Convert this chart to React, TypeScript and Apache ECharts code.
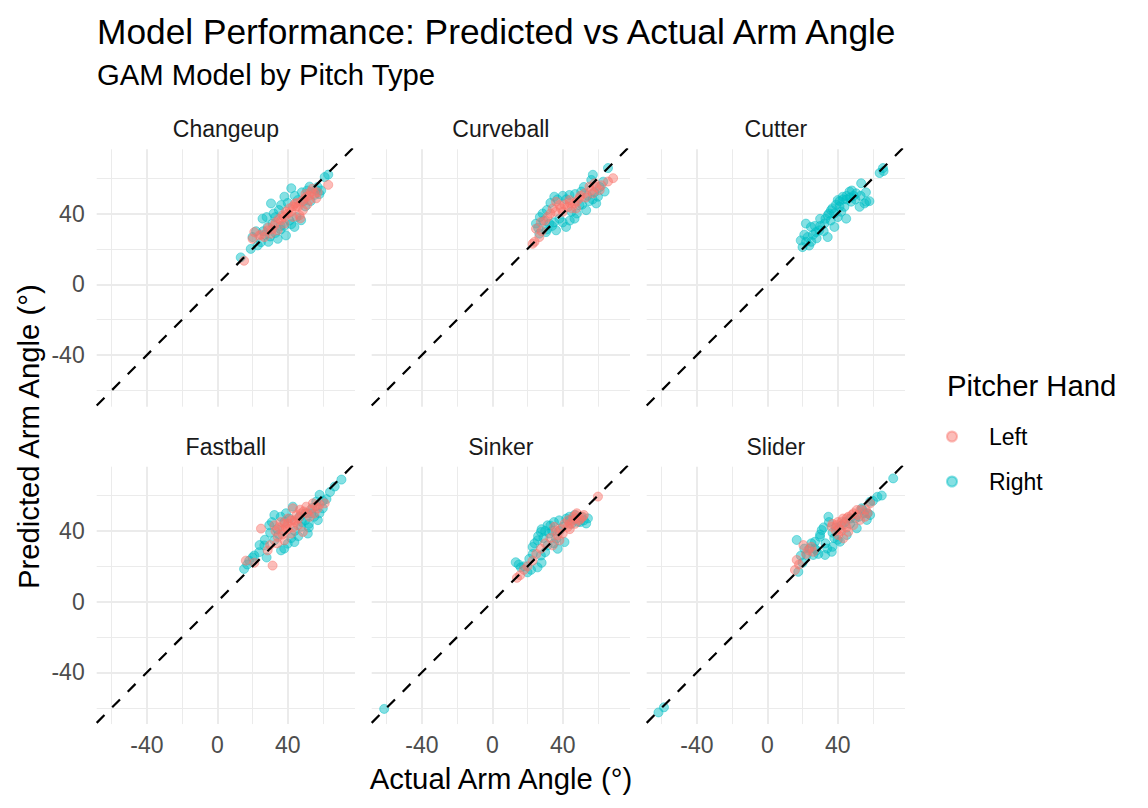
import React, { useEffect, useRef } from "react";
import * as echarts from "echarts";

type Pt = [number, number];

// Facets, legend groups and scale breaks
const PITCH_TYPES = ["Changeup", "Curveball", "Cutter", "Fastball", "Sinker", "Slider"];
const HANDS = ["Left", "Right"];
const HAND_RGB = ["248,118,109", "0,191,196"];
const MAJOR_BREAKS = [-40, 0, 40];
const MINOR_BREAKS = [-60, -20, 20, 60];
const X_RANGE = [-68.5, 78.2];
const Y_RANGE = [-69.2, 76.3];

// [actual arm angle, predicted arm angle]
const changeupLeft: Pt[] = [
  [63, 56.2], [15.2, 13.3], [20, 25.7], [23.8, 27.6], [28.6, 30.5], [32.4, 33.3], [36.2, 36.2],
  [40, 40], [41, 42.9], [44.8, 43.8], [47.6, 46.7], [50.5, 49.5], [53.3, 52.4], [55.2, 51.4],
  [46.7, 39], [42.9, 38.1], [34.3, 30.5], [26.7, 26.7], [30.5, 28.6], [38.1, 34.3], [48.6, 41.9],
  [52.4, 47.6], [56.2, 48.6], [21, 29.5], [47.2, 37.3], [44, 45.5], [38, 38], [51, 45],
  [35, 37], [37, 39], [39, 41], [42, 41], [45, 46], [49, 48], [52, 50], [54, 54], [57, 52],
  [31, 31], [29, 32], [25, 28], [33, 35], [43, 44], [46, 44], [50, 51],
];
const changeupRight: Pt[] = [
  [63, 62], [61, 60.6], [42, 54.3], [30.5, 45.7], [36.2, 44.8], [52.4, 55.2], [13.3, 15.2],
  [19, 20], [24.8, 23.8], [28.6, 32.4], [34.3, 25.7], [39, 27.6], [25.7, 37.1], [38.1, 49.5],
  [45.7, 47.6], [55.2, 50.5], [20, 26.7], [31.4, 34.3], [43.8, 32.4], [47.6, 36.2], [56.2, 53.3],
  [22, 30], [27, 28], [33, 38], [41, 36], [50, 44], [53, 47], [58, 51], [36, 31], [29, 24],
  [32, 40], [28, 38], [35, 42], [40, 46], [44, 50], [48, 52], [51, 53], [57, 55], [59, 53],
  [23, 22], [26, 30], [30, 27], [38, 33], [45, 38], [42, 34], [36, 33], [33, 29], [49, 47],
];
const curveballLeft: Pt[] = [
  [68.6, 60], [65.7, 58.1], [22.9, 22.9], [24.8, 31.4], [27.6, 35.2], [31.4, 38.1], [36.2, 46.7],
  [40, 41], [42.9, 43.8], [46.7, 45.7], [49.5, 48.6], [52.4, 51.4], [55.2, 55.2], [58.1, 57.1],
  [61, 53.3], [57.1, 51.4], [43.8, 47.6], [47.6, 42.9], [34.3, 42.9], [38.1, 44.8], [26.7, 26.7],
  [24, 24], [30, 36], [33, 40], [36, 41], [39, 43], [41, 45], [44, 46], [48, 47], [50, 50],
  [53, 49], [56, 53], [59, 55], [62, 56], [45, 43], [28, 30],
];
const curveballRight: Pt[] = [
  [65.7, 65.7], [57.1, 61.9], [35.2, 49.5], [28.6, 40], [24.8, 34.3], [30.5, 29.5], [36.2, 30.5],
  [41.9, 32.4], [46.7, 37.1], [53.3, 41.9], [59, 45.7], [63.8, 52.4], [43.8, 50.5], [50.5, 52.4],
  [56.2, 59], [32.4, 34.3], [26.7, 28.6], [38.1, 37.1], [60, 49.5], [49.5, 44.8], [29, 36],
  [34, 33], [40, 35], [45, 41], [55, 47], [27, 38], [31, 42], [33, 46], [37, 48], [40, 50],
  [42, 48], [47, 51], [52, 55], [54, 50], [57, 48], [61, 55], [26, 32], [31, 31], [35, 35],
  [44, 36], [48, 40], [51, 45], [58, 52], [63, 58],
];
const cutterLeft: Pt[] = [];
const cutterRight: Pt[] = [
  [65.7, 65.7], [63.8, 62.9], [53.3, 57.1], [55.2, 45.7], [50.5, 51.4], [46.7, 52.4], [42.9, 49.5],
  [40, 47.6], [36.2, 41.9], [34.3, 39], [44.8, 37.1], [38.1, 32.4], [32.4, 34.3], [29.5, 30.5],
  [21.9, 34.3], [24.8, 32.4], [22.9, 26.7], [19, 24.8], [20, 21], [23.8, 21.9], [27.6, 29.5],
  [34.3, 26.7], [47.6, 46.7], [52.4, 43.8], [43.8, 43.8], [56.2, 46.7], [38, 40], [41, 44],
  [45, 48], [49, 50], [30, 33], [36, 36], [26, 28], [33, 37], [35, 40], [37, 43], [39, 45],
  [41, 47], [43, 48], [45, 50], [47, 49], [48, 53], [50, 48], [53, 50], [56, 52], [58, 47],
  [32, 30], [28, 26], [25, 24], [22, 24], [21, 28], [27, 33], [30, 37], [40, 38], [42, 41],
  [66, 64],
];
const fastballLeft: Pt[] = [
  [24.8, 41.3], [31.4, 20.4], [16.2, 23.2], [28.6, 29], [34.3, 36.6], [37.1, 40.4], [40, 44.2],
  [43.8, 46.1], [42.9, 52.8], [47.6, 49.9], [50.5, 53.7], [54.3, 55.6], [57.1, 52.8], [61, 55.6],
  [45.7, 43.2], [41.9, 38.5], [38.1, 34.7], [52.4, 48], [32.4, 43.2], [48.6, 39.4], [55.2, 49.9],
  [36, 45], [46, 47], [39, 42], [35, 42], [38, 44], [40, 41], [42, 46], [44, 45], [45, 49],
  [47, 52], [49, 51], [51, 50], [53, 52], [56, 54], [58, 55], [43, 42], [40, 47], [37, 38],
  [34, 33], [30, 32], [21, 22], [33, 40],
];
const fastballRight: Pt[] = [
  [70.5, 69], [66.7, 65.1], [58.1, 60.4], [56.2, 56.6], [53.3, 49.9], [42.9, 53.7], [32.4, 49],
  [29.5, 43.2], [38.1, 45.1], [47.6, 42.3], [57.1, 46.1], [26.7, 31.8], [23.8, 28], [21, 26.1],
  [15.2, 18.5], [36.2, 29], [40, 32.8], [43.8, 33.7], [51.4, 38.5], [32.4, 34.7], [46.7, 48],
  [59.9, 52.8], [18.1, 23.2], [50, 50], [54, 53], [44, 40], [35, 38], [28, 25], [27, 35],
  [30, 39], [31, 45], [34, 41], [36, 48], [39, 50], [41, 47], [48, 45], [50, 46], [52, 44],
  [55, 48], [58, 50], [60, 57], [62, 58], [64, 62], [24, 32], [20, 25], [17, 21], [38, 30],
  [42, 36], [46, 37], [52, 42],
];
const sinkerLeft: Pt[] = [
  [60, 59.4], [14, 13.5], [15.8, 15], [22.9, 23.2], [27.6, 29.9], [34.3, 31.8], [37.1, 37.5],
  [40, 38.5], [42.9, 42.3], [45.7, 46.1], [47.6, 49], [49.5, 46.1], [51.4, 48], [35.2, 42.3],
  [38.1, 34.7], [44, 44], [48, 47], [39, 41], [41, 44], [43, 46], [46, 48], [48, 50], [50, 47],
  [52, 49], [36, 40], [33, 36], [30, 33], [25, 27], [20, 20], [18, 18], [47, 44], [44, 41],
];
const sinkerRight: Pt[] = [
  [-61.4, -60.6], [13.3, 22.3], [16.2, 19.4], [21, 24.2], [22.9, 30.9], [25.7, 34.7], [27.6, 39.4],
  [31.4, 43.2], [32.4, 38.5], [37.1, 29.9], [36.2, 35.6], [40, 42.3], [43.8, 48], [46.7, 49],
  [50.5, 48], [53.3, 44.2], [54.3, 47.1], [48.6, 45.1], [27.6, 26.1], [25.7, 19.4], [20, 16.6],
  [31.4, 31.8], [41, 33.7], [29, 36], [34, 40], [45, 44], [23, 27], [24, 33], [26, 37], [28, 41],
  [30, 40], [33, 43], [35, 45], [38, 46], [42, 47], [44, 46], [47, 47], [50, 45], [52, 46],
  [38, 40], [35, 33], [30, 28], [28, 22], [22, 18], [18, 20], [15, 21],
];
const sliderLeft: Pt[] = [
  [58.4, 55.6], [55.5, 48], [15.7, 17.9], [16.7, 23.6], [20.5, 32], [23.3, 29.2], [26.1, 28.2],
  [36.6, 42.4], [39.4, 43.3], [42.3, 45.2], [45.1, 47.1], [48, 49], [50.8, 51.8], [43.2, 35.8],
  [46, 39.5], [48.9, 43.3], [40.3, 37.7], [52.7, 46.2], [44, 44], [41, 41], [37, 44], [40, 45],
  [43, 47], [46, 48], [49, 50], [51, 49], [53, 52], [56, 52], [57, 50], [42, 40], [45, 42],
  [39, 40], [22, 27], [25, 31], [18, 21],
];
const sliderRight: Pt[] = [
  [71.5, 69.7], [62.5, 59.3], [58.4, 56.5], [-61.8, -62.6], [-58.7, -59.7], [34.7, 48], [16.7, 34.9],
  [17.6, 16.9], [22.4, 26.4], [27.1, 33.9], [30.9, 40.5], [36.6, 28.2], [32.8, 26.4], [41.3, 33.9],
  [45.1, 37.7], [50.8, 41.5], [56.5, 46.2], [58.4, 49], [53.6, 52.8], [26.1, 26.4], [29.9, 36.7],
  [24, 30], [28, 29], [33, 33], [38, 36], [47, 44], [55, 50], [20, 22], [30, 38], [32, 42],
  [35, 45], [37, 39], [39, 42], [42, 43], [44, 45], [47, 47], [50, 47], [52, 48], [54, 52],
  [57, 50], [60, 57], [65, 60], [25, 33], [27, 30], [29, 27], [34, 30], [37, 31], [40, 35],
  [21, 30], [19, 26],
];

const PANEL_DATA: Pt[][][] = [
  [changeupLeft, changeupRight],
  [curveballLeft, curveballRight],
  [cutterLeft, cutterRight],
  [fastballLeft, fastballRight],
  [sinkerLeft, sinkerRight],
  [sliderLeft, sliderRight],
];

// Facet layout
const COL_LEFT = [96.7, 371.7, 646.7];
const ROW_TOP = [149.3, 466.7];
const PANEL_W = 258.3;
const PANEL_H = 257.4;

const FONT = "'Liberation Sans', Arial, Helvetica, sans-serif";
const GRID_COLOR = "#EBEBEB";

function buildOption(): echarts.EChartsOption {
  const grid: any[] = [];
  const xAxis: any[] = [];
  const yAxis: any[] = [];
  const series: any[] = [];
  const graphic: any[] = [];

  PITCH_TYPES.forEach((pitch, i) => {
    const col = i % 3;
    const row = Math.floor(i / 3);
    grid.push({ left: COL_LEFT[col], top: ROW_TOP[row], width: PANEL_W, height: PANEL_H, containLabel: false });

    const axisBase = (breaks: number[], width: number, showLabel: boolean, isX: boolean) => ({
      type: "value",
      gridIndex: i,
      min: isX ? X_RANGE[0] : Y_RANGE[0],
      max: isX ? X_RANGE[1] : Y_RANGE[1],
      axisLine: { show: false },
      axisTick: { show: false, customValues: breaks },
      axisLabel: {
        show: showLabel,
        customValues: breaks,
        margin: isX ? 9 : 12,
        fontSize: 23,
        color: "#4D4D4D",
        fontFamily: FONT,
      },
      splitLine: { show: true, lineStyle: { color: GRID_COLOR, width } },
      z: 0,
    });

    // major (labelled) axes, then minor grid axes
    xAxis.push(axisBase(MAJOR_BREAKS, 2, row === 1, true));
    xAxis.push(axisBase(MINOR_BREAKS, 1, false, true));
    yAxis.push(axisBase(MAJOR_BREAKS, 2, col === 0, false));
    yAxis.push(axisBase(MINOR_BREAKS, 1, false, false));

    // right-handed points first so left-handed points sit on top
    [1, 0].forEach((h) => {
      const rgba = `rgba(${HAND_RGB[h]},0.6)`;
      series.push({
        type: "scatter",
        name: HANDS[h],
        xAxisIndex: 2 * i,
        yAxisIndex: 2 * i,
        data: PANEL_DATA[i][h],
        symbol: "circle",
        symbolSize: 9,
        itemStyle: { color: rgba, borderColor: rgba, borderWidth: 1 },
        z: 2,
      });
    });

    // identity reference line y = x
    series.push({
      type: "line",
      name: "identity",
      xAxisIndex: 2 * i,
      yAxisIndex: 2 * i,
      data: [
        [X_RANGE[0], X_RANGE[0]],
        [X_RANGE[1], X_RANGE[1]],
      ],
      symbol: "none",
      clip: true,
      silent: true,
      lineStyle: { color: "#000000", width: 2.2, type: [11, 11] },
      z: 3,
    });

    // facet strip label
    graphic.push({
      type: "text",
      x: COL_LEFT[col] + PANEL_W / 2,
      y: ROW_TOP[row] - 20,
      style: {
        text: pitch,
        fill: "#1A1A1A",
        fontSize: 23,
        fontFamily: FONT,
        textAlign: "center",
        textVerticalAlign: "middle",
        align: "center",
        verticalAlign: "middle",
      },
    });
  });

  const textEl = (text: string, x: number, y: number, size: number, align: string, rotation = 0) => ({
    type: "text",
    x,
    y,
    rotation,
    style: {
      text,
      fill: "#000000",
      fontSize: size,
      fontFamily: FONT,
      textAlign: align,
      textVerticalAlign: "middle",
      align,
      verticalAlign: "middle",
    },
  });

  graphic.push(textEl("Model Performance: Predicted vs Actual Arm Angle", 97, 31, 35.3, "left"));
  graphic.push(textEl("GAM Model by Pitch Type", 97, 74.5, 29.3, "left"));
  graphic.push(textEl("Actual Arm Angle (°)", 501, 778, 29.3, "center"));
  graphic.push(textEl("Predicted Arm Angle (°)", 28, 436.7, 29.3, "center", Math.PI / 2));
  graphic.push(textEl("Pitcher Hand", 947, 385, 29.3, "left"));

  return {
    animation: false,
    backgroundColor: "#FFFFFF",
    grid,
    xAxis,
    yAxis,
    series,
    graphic,
    legend: {
      data: HANDS,
      orient: "vertical",
      left: 941,
      top: 420,
      icon: "circle",
      itemWidth: 64,
      itemHeight: 10,
      itemGap: 22,
      selectedMode: false,
      textStyle: { fontSize: 23, color: "#000000", fontFamily: FONT },
    },
  };
}

export default function App() {
  const ref = useRef<HTMLDivElement>(null);

  useEffect(() => {
    if (!ref.current) return;
    const chart = echarts.init(ref.current, undefined, { renderer: "svg" });
    chart.setOption(buildOption());
    return () => chart.dispose();
  }, []);

  return (
    <div
      ref={ref}
      style={{ position: "fixed", left: 0, top: 0, width: 1148, height: 808, background: "#FFFFFF" }}
    />
  );
}
